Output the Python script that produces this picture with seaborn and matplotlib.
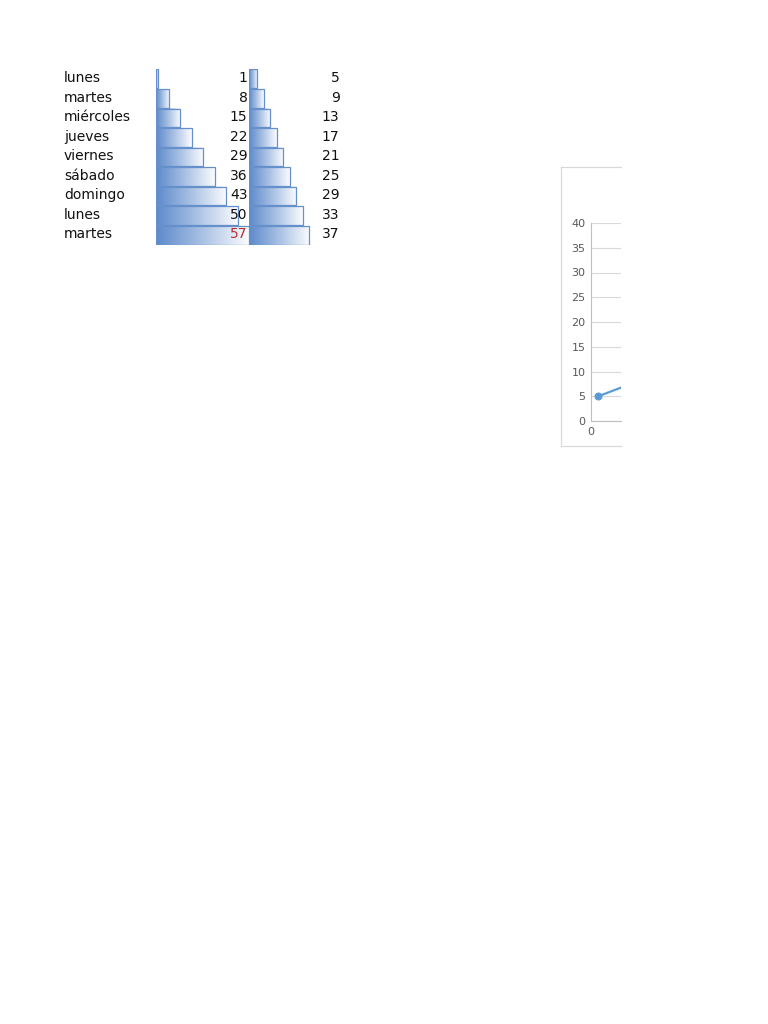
"""Tabla con barras de datos (estilo hoja de cálculo) y un gráfico de dispersión recortado."""

import matplotlib
matplotlib.use("Agg")
import matplotlib.pyplot as plt
from matplotlib.colors import LinearSegmentedColormap
import seaborn as sns
import numpy as np
import pandas as pd

sns.set_style("white")
plt.rcParams["font.family"] = ["DejaVu Sans"]

# datos de la tabla
dias = ["lunes", "martes", "miércoles", "jueves", "viernes",
        "sábado", "domingo", "lunes", "martes"]
serie_a = [1, 8, 15, 22, 29, 36, 43, 50, 57]
serie_b = [5, 9, 13, 17, 21, 25, 29, 33, 37]
valores_rojos = [57]          # formato condicional: texto rojo

# ejes del gráfico
yticks_graf = [0, 5, 10, 15, 20, 25, 30, 35, 40]

W, H = 768, 1024
fig = plt.figure(figsize=(W / 100, H / 100), dpi=100)


def px_axes(left, top, right, bottom):
    """Crea unos ejes a partir de coordenadas en píxeles (origen arriba a la izquierda)."""
    return fig.add_axes([left / W, 1 - bottom / H, (right - left) / W, (bottom - top) / H])


AZUL_BARRA = "#5d8acb"
BORDE_BARRA = "#6690cb"
grad_cmap = LinearSegmentedColormap.from_list("barra", [AZUL_BARRA, "#a9c1e4", "#fbfcfe"])

fila_top, fila_bot = 69, 245
escala = 93 / 57  # píxeles por unidad

df = pd.DataFrame({"fila": np.arange(len(dias)), "a": serie_a, "b": serie_b})

ax_a = px_axes(156, fila_top, 249, fila_bot)
ax_b = px_axes(249, fila_top, 340, fila_bot)

for ax, col, izq, ancho_px, x_txt in [(ax_a, "a", 156, 93, 247.5), (ax_b, "b", 249, 91, 339.5)]:
    sns.barplot(data=df, x=col, y="fila", orient="h", ax=ax, width=0.95,
                color="none", edgecolor=BORDE_BARRA, linewidth=0.9)
    # relleno degradado de cada barra
    grad = np.linspace(0, 1, 256).reshape(1, -1)
    for p in ax.patches:
        x0, y0, w, h = p.get_x(), p.get_y(), p.get_width(), p.get_height()
        ax.imshow(grad, extent=[x0, x0 + w, y0 + h, y0], aspect="auto",
                  cmap=grad_cmap, zorder=1, interpolation="bilinear")
        p.set_facecolor("none")
        p.set_zorder(2)
    ax.set_xlim(0, ancho_px / escala)
    ax.set_ylim(len(dias) - 0.5, -0.5)
    ax.axis("off")
    # números alineados a la derecha
    trans = ax.get_yaxis_transform()
    for i, v in enumerate(df[col]):
        color = "#b8312f" if (col == "a" and v in valores_rojos) else "#111111"
        ax.text((x_txt - izq) / ancho_px, i - 0.04,
                str(v), transform=trans, ha="right", va="center",
                fontsize=10, color=color, zorder=3)

# etiquetas de los días
paso = (fila_bot - fila_top) / len(dias)
for i, d in enumerate(dias):
    y = fila_top + paso * (i + 0.5) - 0.8
    fig.text(64 / W, 1 - y / H, d, ha="left", va="center", fontsize=10, color="#111111")

# marco del gráfico (recortado en x=621)
ax_marco = px_axes(560.5, 166.5, 621, 446)
ax_marco.set_xticks([])
ax_marco.set_yticks([])
for lado in ["left", "top", "bottom"]:
    ax_marco.spines[lado].set_color("#d9d9d9")
    ax_marco.spines[lado].set_linewidth(0.9)
ax_marco.spines["right"].set_visible(False)
ax_marco.patch.set_alpha(0)

# gráfico de dispersión con líneas
ax_g = px_axes(591, 223, 621, 421)
sns.lineplot(data=df, x="a", y="b", ax=ax_g, color="#5b9bd5", linewidth=1.6,
             marker="o", markersize=5, markeredgecolor="#5b9bd5")
ax_g.set_ylim(0, 40)
ax_g.set_xlim(0, 30 / 7.4)
ax_g.set_yticks(yticks_graf)
ax_g.set_xticks([0])
ax_g.set_xlabel("")
ax_g.set_ylabel("")
ax_g.grid(axis="y", color="#d9d9d9", linewidth=0.8)
ax_g.tick_params(length=0, labelsize=8, colors="#595959", pad=4)
for lado in ["top", "right"]:
    ax_g.spines[lado].set_visible(False)
for lado in ["left", "bottom"]:
    ax_g.spines[lado].set_color("#bfbfbf")
    ax_g.spines[lado].set_linewidth(0.8)
ax_g.patch.set_alpha(0)

fig.savefig("out.png", dpi=100)
plt.close(fig)
